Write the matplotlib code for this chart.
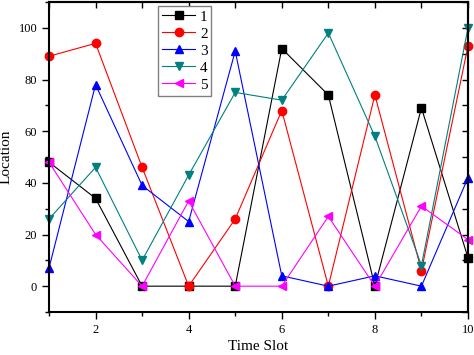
import matplotlib
matplotlib.use("Agg")
import matplotlib.pyplot as plt
from matplotlib.ticker import MultipleLocator

plt.rcParams['font.family'] = ['Liberation Serif', 'DejaVu Serif']

time_slots = [1, 2, 3, 4, 5, 6, 7, 8, 9, 10]
s1 = [48, 34, 0, 0, 0, 92, 74, 0, 69, 11]
s2 = [89, 94, 46, 0, 26, 68, 0, 74, 6, 93]
s3 = [7, 78, 39, 25, 91, 4, 0, 4, 0, 42]
s4 = [26, 46, 10, 43, 75, 72, 98, 58, 8, 100]
s5 = [48, 20, 0, 33, 0, 0, 27, 0, 31, 18]
labels = ['1', '2', '3', '4', '5']

fig = plt.figure(figsize=(4.74, 3.55), dpi=100)
ax = fig.add_axes([49/474, 1-312/355, (468-49)/474, (312-2)/355])

styles = [('black', 's'), ('red', 'o'), ('blue', '^'), ('#008080', 'v'), ('magenta', '<')]
for ys, lab, (c, m) in zip([s1, s2, s3, s4, s5], labels, styles):
    ax.plot(time_slots, ys, color=c, marker=m, markersize=6, linewidth=0.8,
            label=lab, clip_on=False)

ax.set_xlim(1, 10)
ax.set_ylim(-10, 110)
ax.xaxis.set_major_locator(MultipleLocator(2))
ax.xaxis.set_minor_locator(MultipleLocator(1))
ax.yaxis.set_major_locator(MultipleLocator(20))
ax.yaxis.set_minor_locator(MultipleLocator(10))
ax.set_yticks([0, 20, 40, 60, 80, 100])
ax.tick_params(axis='both', which='both', direction='out', labelsize=9, width=1)
ax.tick_params(axis='both', which='major', length=5)
ax.tick_params(axis='both', which='minor', length=3)

ax2 = ax.secondary_xaxis('top')
ax2.xaxis.set_major_locator(MultipleLocator(1))
ax2.tick_params(direction='in', length=4, labeltop=False, width=1)
ax3 = ax.secondary_yaxis('right')
ax3.yaxis.set_major_locator(MultipleLocator(10))
ax3.tick_params(direction='in', length=4, labelright=False, width=1)

for sp in ax.spines.values():
    sp.set_linewidth(1.5)
ax2.spines['top'].set_linewidth(1.5)
ax3.spines['right'].set_linewidth(1.5)

ax.set_xlabel('Time Slot', fontsize=11, labelpad=3)
ax.set_ylabel('Location', fontsize=11)

leg = ax.legend(loc='upper left', bbox_to_anchor=(0.26, 0.987), fontsize=11,
                handlelength=2.2, fancybox=False, framealpha=1, edgecolor='gray',
                borderpad=0.25, labelspacing=0.22, handletextpad=0.3,
                borderaxespad=0)
leg.get_frame().set_linewidth(1)

fig.savefig('out.png', dpi=100)
